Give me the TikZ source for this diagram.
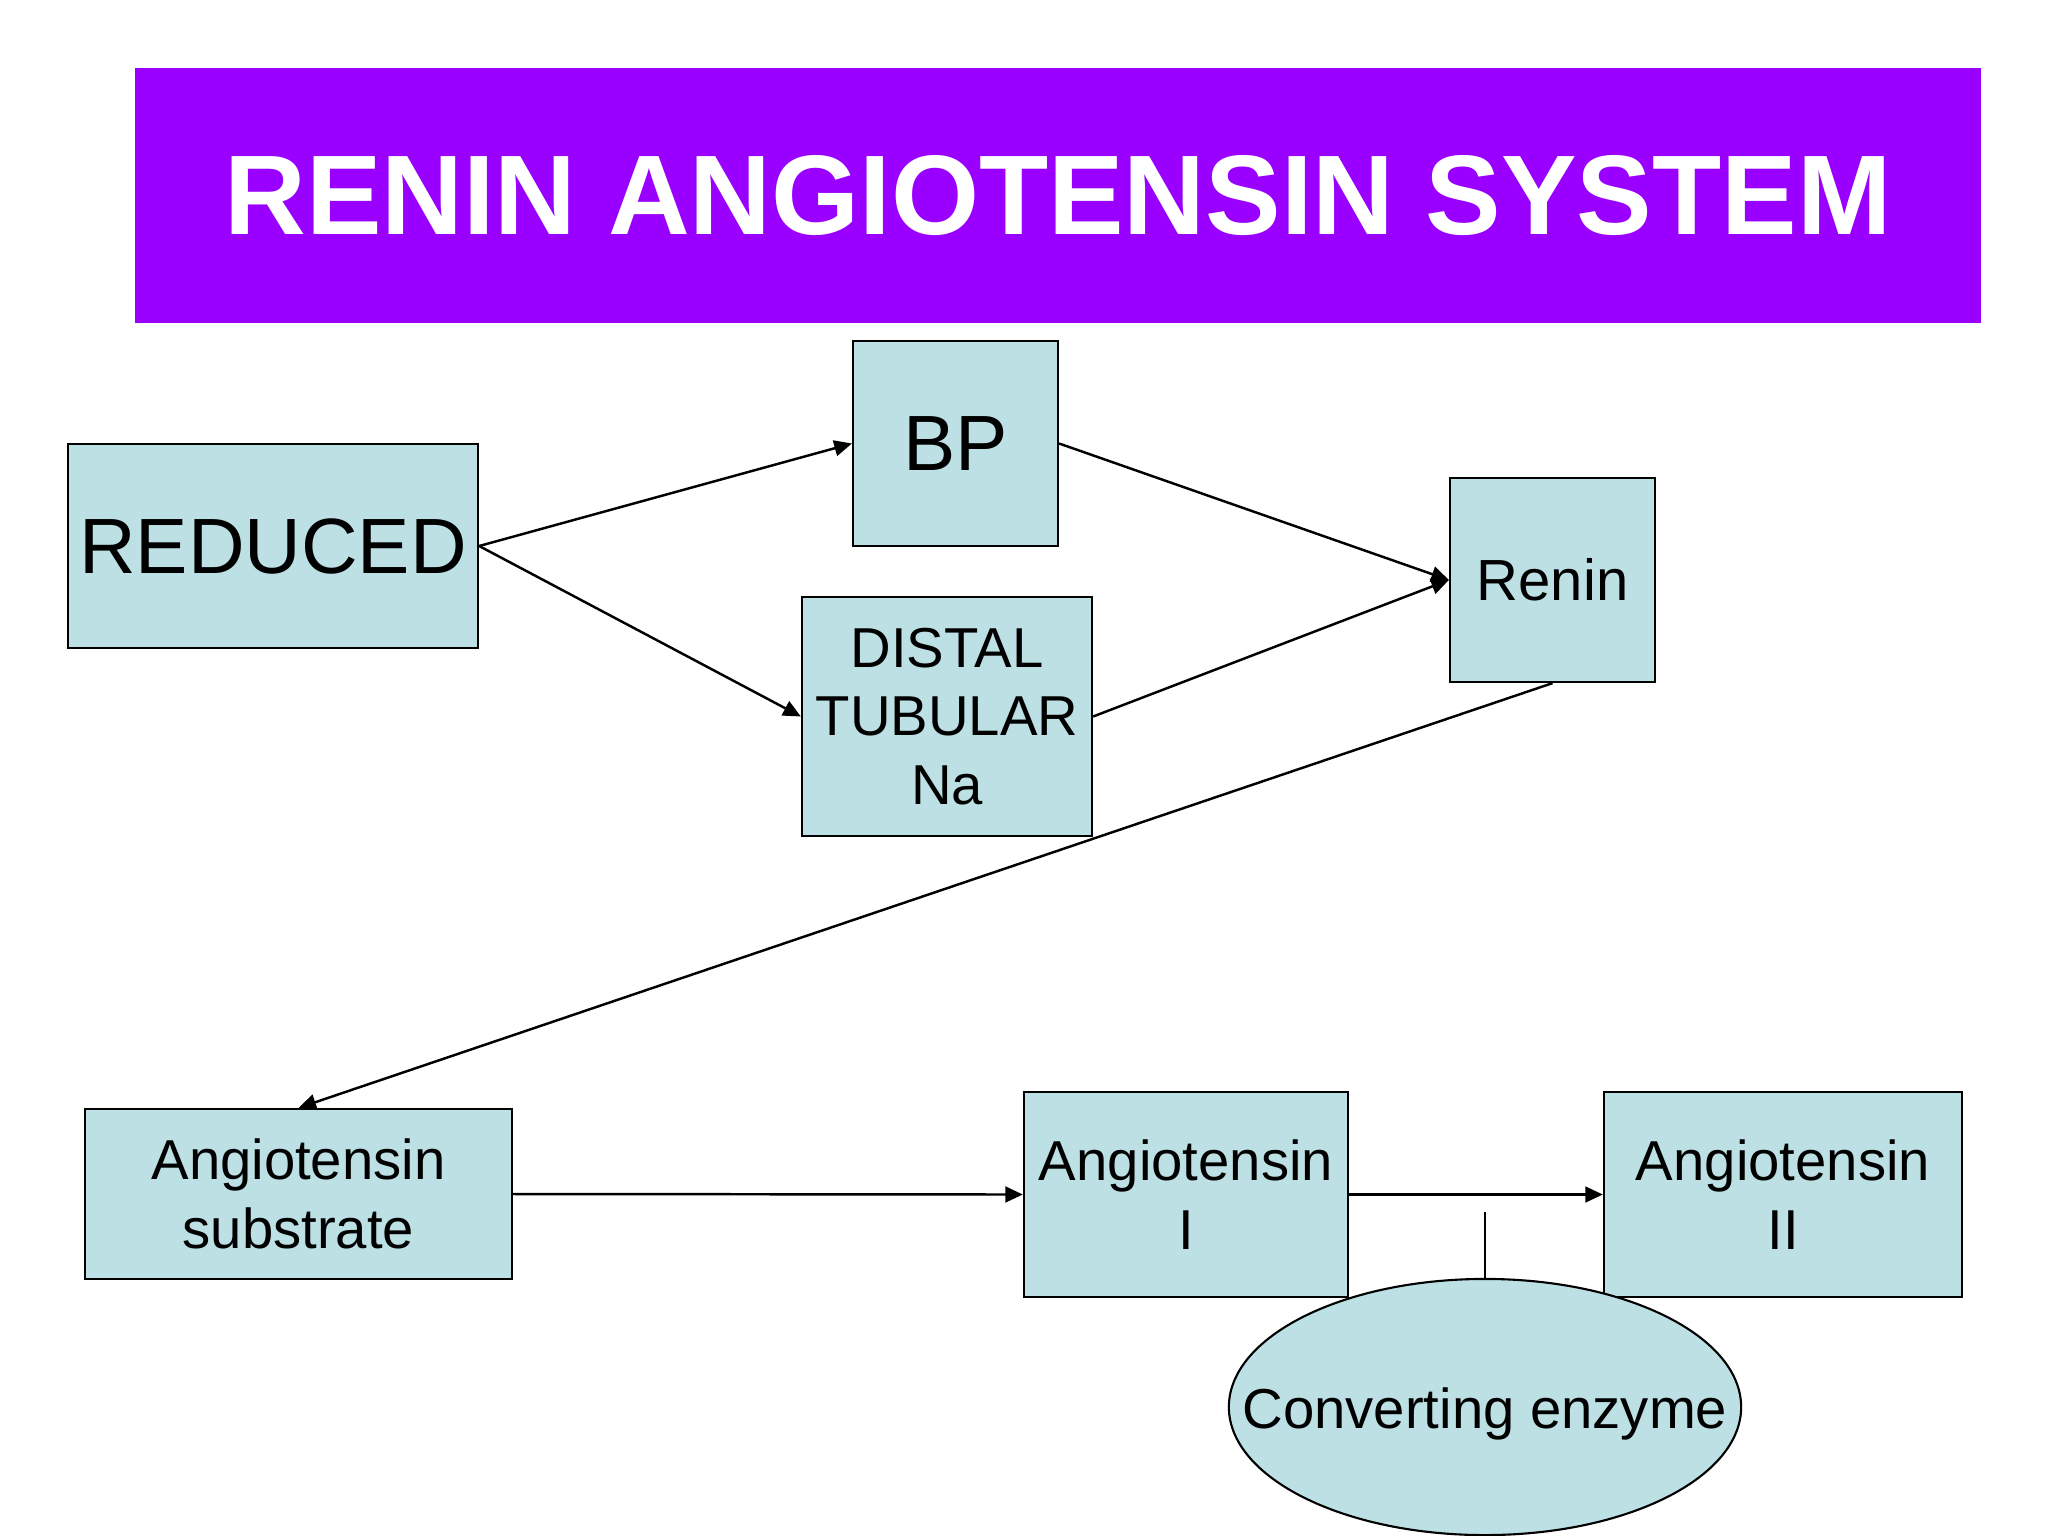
\documentclass[tikz,border=0pt]{standalone}
\usepackage{fontspec}
\setmainfont{Liberation Sans}
\usetikzlibrary{shapes.geometric,arrows.meta}
\definecolor{boxfill}{RGB}{188,224,227}
\definecolor{bannerfill}{RGB}{153,0,255}
\tikzset{
  box/.style={draw=black, fill=boxfill, line width=0.6pt, inner sep=0pt, align=center, font=\fontsize{16}{19.5}\selectfont},
  bigbox/.style={box, font=\fontsize{22.3}{26}\selectfont},
  flow/.style={-{Triangle[length=5pt,width=4.5pt]}, line width=0.7pt},
}
\begin{document}
\begin{tikzpicture}[x=0.01cm, y=-0.01cm]
        \fill[white] (0,0) rectangle (2048,1536);
        \useasboundingbox (0,0) rectangle (2048,1536);
        \node[fill=bannerfill, minimum width=18.44cm, minimum height=2.55cm, text=white, font=\bfseries\fontsize{32.2}{36}\selectfont] (title) at (1058,195.5) {RENIN ANGIOTENSIN SYSTEM};
        \node[bigbox, minimum width=4.10cm, minimum height=2.04cm] (reduced) at (273,546) {REDUCED};
        \node[bigbox, minimum width=2.05cm, minimum height=2.05cm] (bp) at (955.5,443.5) {BP};
        \node[box, minimum width=2.90cm, minimum height=2.39cm] (distal) at (947,716.5) {DISTAL\\TUBULAR\\Na};
        \node[box, minimum width=2.05cm, minimum height=2.04cm, font=\fontsize{16.5}{19.5}\selectfont] (renin) at (1552.5,580) {Renin};
        \node[box, minimum width=4.27cm, minimum height=1.70cm] (substrate) at (298.5,1194) {Angiotensin\\substrate};
        \node[box, minimum width=3.24cm, minimum height=2.05cm] (angI) at (1186,1194.5) {Angiotensin\\I};
        \node[box, minimum width=3.58cm, minimum height=2.05cm] (angII) at (1783,1194.5) {Angiotensin\\II};
        \draw[flow] (reduced.east) -- (bp.west);
        \draw[flow] (reduced.east) -- (distal.west);
        \draw[flow] (bp.east) -- (renin.west);
        \draw[flow] (distal.east) -- (renin.west);
        \draw[flow] (renin.south) -- (substrate.north);
        \draw[flow] (substrate.east) -- (angI.west);
        \draw[flow] (angI.east) -- (angII.west);
        \node[box, ellipse, minimum width=5.12cm, minimum height=2.56cm, label={[font=\fontsize{16}{19.5}\selectfont, yshift=-0.07cm]center:Converting enzyme}] (enzyme) at (1485,1407) {};
        \coordinate (enzlink) at (1485,1212);
        \draw[line width=0.5pt] (enzyme.north) -- (enzlink);
\end{tikzpicture}
\end{document}
